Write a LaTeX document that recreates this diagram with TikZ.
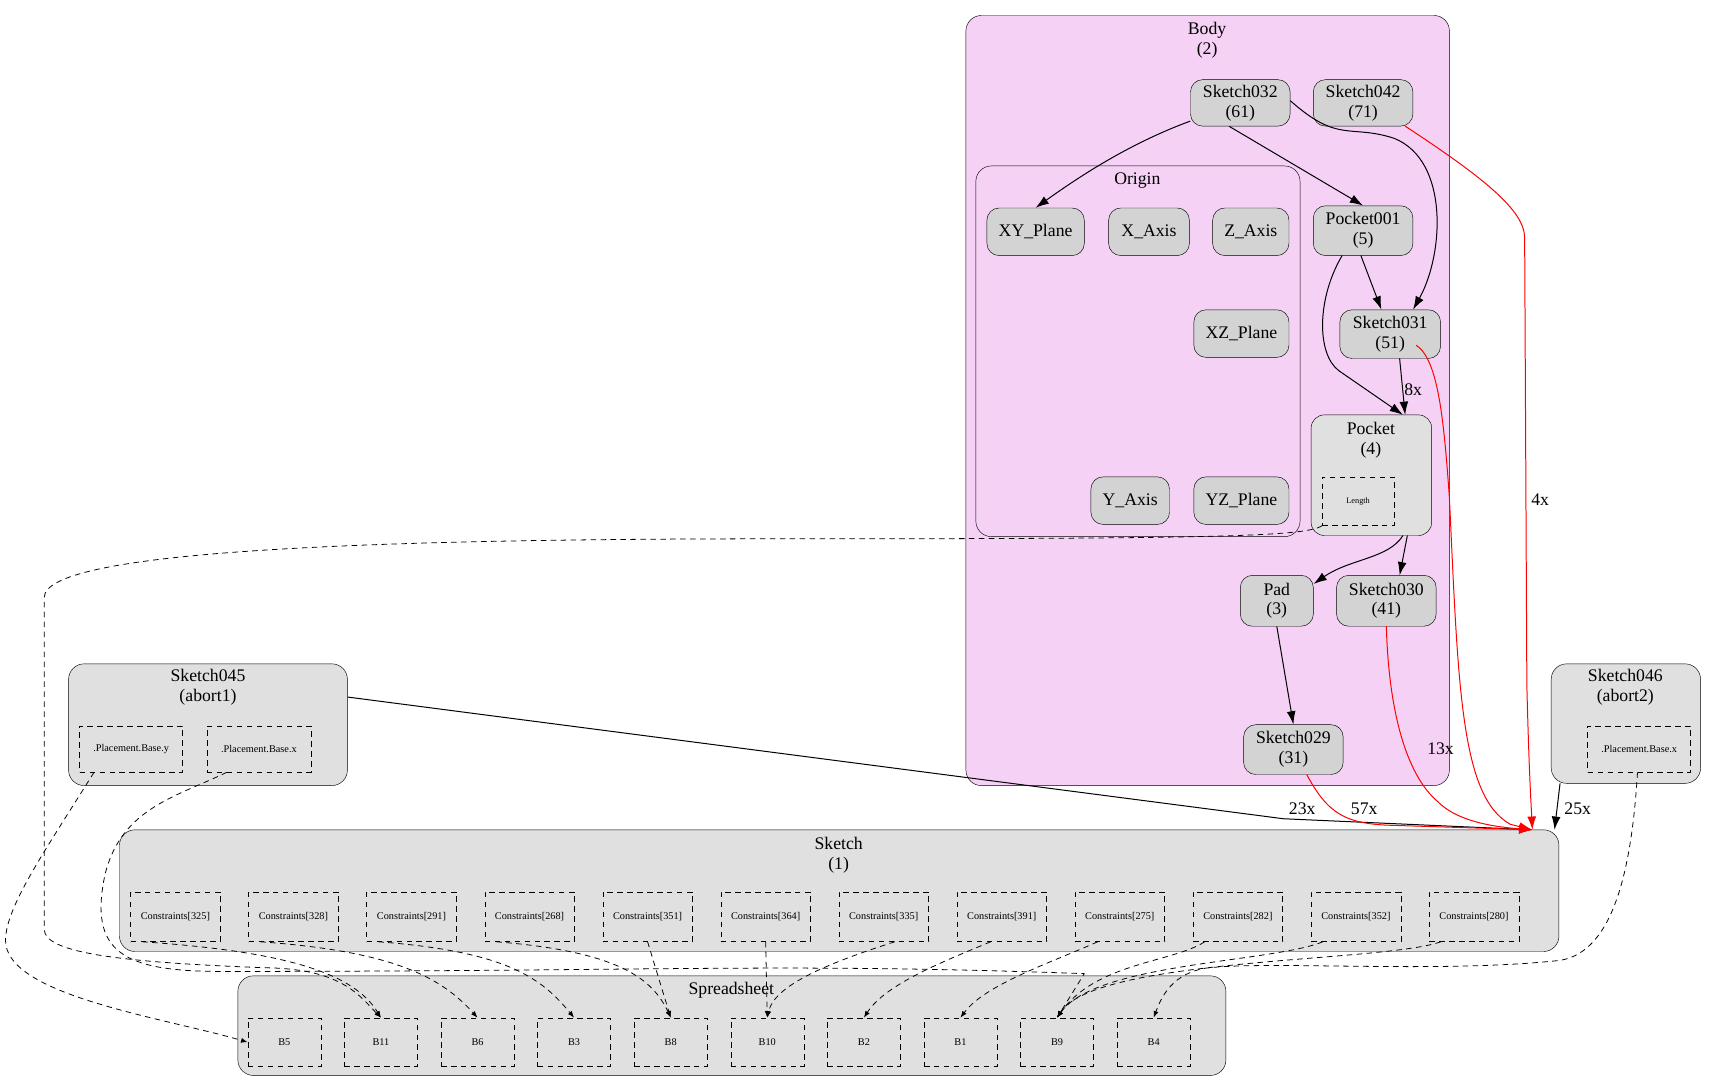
\documentclass[tikz,border=0pt]{standalone}
\usepackage{fontspec}
\setmainfont{Liberation Serif}
\usetikzlibrary{arrows.meta,calc}
\definecolor{nodeg}{RGB}{211,211,211}
\definecolor{clug}{RGB}{224,224,224}
\definecolor{bodyc}{RGB}{245,210,245}
\begin{document}
\begin{tikzpicture}[x=1pt,y=-1pt,
  nd/.style={draw,fill=nodeg,rounded corners=11pt,inner sep=0pt,align=center,font=\fontsize{16}{18}\selectfont},
  cl/.style={draw,fill=clug,rounded corners=14pt,inner sep=0pt},
  sub/.style={draw,dash pattern=on 5pt off 4pt,inner sep=0pt,font=\fontsize{9.3}{11}\selectfont},
  ttl/.style={align=center,font=\fontsize{16}{18}\selectfont,inner sep=0pt},
  lab/.style={font=\fontsize{16}{18}\selectfont,inner sep=1pt},
  e/.style={-{Latex[length=12pt,width=8pt]},line width=0.9pt},
  r/.style={e,red},
  d/.style={-{Latex[length=6pt,width=4.5pt]},dash pattern=on 5pt off 4pt,line width=0.7pt}]
\useasboundingbox (0,0) rectangle (1560,984);
\newcommand\bx[5]{\node[#1,minimum width={#4-#2},minimum height={#5-#3}] at ({(#2+#4)/2},{(#3+#5)/2})}
% Body cluster
\bx{draw,fill=bodyc,rounded corners=14pt,inner sep=0pt}{873}{14}{1310}{710} (body) {};
\node[ttl] (bodyt) at (1091,36) {Body\\(2)};
\bx{draw,rounded corners=14pt,inner sep=0pt}{882}{150}{1175}{485} (origin) {};
\node[ttl] (origint) at (1028,163) {Origin};
\bx{nd}{1076}{72}{1166}{114} (s032) {Sketch032\\(61)};
\bx{nd}{1187}{72}{1277}{114} (s042) {Sketch042\\(71)};
\bx{nd}{892}{188}{980}{231} (xy) {XY\_Plane};
\bx{nd}{1002}{188}{1075}{231} (xa) {X\_Axis};
\bx{nd}{1096}{188}{1165}{231} (za) {Z\_Axis};
\bx{nd}{1079}{280}{1165}{323} (xz) {XZ\_Plane};
\bx{nd}{986}{431}{1057}{474} (ya) {Y\_Axis};
\bx{nd}{1079}{431}{1165}{474} (yz) {YZ\_Plane};
\bx{nd}{1187}{186}{1277}{231} (p001) {Pocket001\\(5)};
\bx{nd}{1211}{280}{1302}{324} (s031) {Sketch031\\(51)};
\bx{cl,rounded corners=12pt}{1185}{375}{1294}{484} (pocket) {};
\node[ttl] (pockett) at (1239,398) {Pocket\\(4)};
\bx{sub}{1195}{431}{1260}{475} (len) {\fontsize{7.5}{8}\selectfont Length};
\bx{nd}{1121}{520}{1187}{566} (pad) {Pad\\(3)};
\bx{nd}{1208}{520}{1298}{566} (s030) {Sketch030\\(41)};
\bx{nd}{1124}{655}{1214}{700} (s029) {Sketch029\\(31)};
% Sketch045
\bx{cl}{62}{600}{314}{710} (s045) {};
\node[ttl] (s045t) at (188,621) {Sketch045\\(abort1)};
\bx{sub}{72}{656}{165}{698} (by45) {.Placement.Base.y};
\bx{sub}{187}{656}{281}{698} (bx45) {.Placement.Base.x};
% Sketch046
\bx{cl}{1402}{600}{1537}{708} (s046) {};
\node[ttl] (s046t) at (1469,621) {Sketch046\\(abort2)};
\bx{sub}{1435}{656}{1528}{698} (bx46) {.Placement.Base.x};
% Sketch
\bx{cl}{108}{750}{1409}{860} (sk) {};
\node[ttl] (skt) at (758,773) {Sketch\\(1)};
\foreach \n [count=\i from 0] in {325,328,291,268,351,364,335,391,275,282,352,280}{
  \pgfmathsetmacro\xa{118+106.7*\i}
  \bx{sub}{\xa}{806}{\xa+81}{851} (c\n) {Constraints[\n]};
}
% Spreadsheet
\bx{cl}{215}{882}{1108}{972} (ss) {};
\node[ttl] (sst) at (661,895) {Spreadsheet};
\foreach \n [count=\i from 0] in {B5,B11,B6,B3,B8,B10,B2,B1,B9,B4}{
  \pgfmathsetmacro\xa{224+87.3*\i}
  \bx{sub}{\xa}{920}{\xa+66}{964} (\n) {\n};
}
\coordinate (skin) at (1385,750);
% black edges
\draw[e] (s032.200) .. controls (1020,130) and (975,160) .. (xy.north);
\draw[e] ($(s032.south)+(-10,0)$) -- (p001.north);
\draw[e] ($(s032.east)+(0,-2)$) .. controls (1210,130) and (1220,112) .. (1260,125) .. controls (1310,145) and (1305,230) .. ($(s031.north east)+(-25,0)$);
\draw[e] (1230,231) -- ($(s031.north)+(-8,0)$);
\draw[e] (1213,231) .. controls (1190,270) and (1190,320) .. (1210,335) -- (1268,375);
\draw[e] (1265,324) -- (1270,375) node[lab,right,pos=0.55] (l8) {8x};
\draw[e] (1268,484) .. controls (1255,505) and (1220,505) .. ($(pad.north east)+(0,8)$);
\draw[e] (1272,484) -- (1265,520);
\draw[e] (pad.south) -- (s029.north);
\draw[e] ($(s045.east)+(0,-25)$) -- (1160,740) -- (skin);
\node[lab] (l23) at (1177,731) {23x};
\draw[e] (1410,708) -- (1405,750);
\node[lab] (l25) at (1426,731) {25x};
% red edges
\draw[r] (1270,114) .. controls (1340,160) and (1378,190) .. (1378,215) -- (1380,620) .. controls (1382,700) and (1384,730) .. (skin);
\node[lab] (l4) at (1392,452) {4x};
\draw[r] (1280,312) .. controls (1300,325) and (1305,380) .. (1310,450) .. controls (1318,620) and (1320,720) .. (1365,745) -- (skin);
\draw[r] (1253,566) .. controls (1255,640) and (1270,700) .. (1300,725) .. controls (1320,745) and (1360,748) .. (skin);
\node[lab] (l13) at (1302,677) {13x};
\draw[r] (1181,700) .. controls (1200,735) and (1215,745) .. (1260,746) -- (skin);
\node[lab] (l57) at (1233,731) {57x};
% dashed edges
\draw[d] (len.south west) .. controls (1180,485) and (1100,487) .. (700,487) .. controls (300,487) and (40,500) .. (40,540) -- (40,840) .. controls (40,860) and (100,870) .. (250,875) .. controls (310,878) and (325,900) .. (B11.north);
\draw[d] (85,698) .. controls (40,770) and (5,820) .. (5,850) .. controls (5,900) and (150,920) .. (B5.west);
\draw[d] (205,698) .. controls (160,720) and (110,730) .. (95,790) .. controls (80,860) and (110,878) .. (200,878) .. controls (600,878) and (700,870) .. (980,880) -- (B9.north);
\draw[d] (1480,698) .. controls (1475,780) and (1460,860) .. (1410,868) .. controls (1300,880) and (1150,868) .. (1090,875) .. controls (1060,880) and (1050,900) .. (B4.north);
\draw[d] ($(c325.south)+(-30,0)$) .. controls (260,860) and (320,880) .. (B11.north);
\draw[d] ($(c328.south)+(-30,0)$) .. controls (360,860) and (400,885) .. (B6.north);
\draw[d] ($(c291.south)+(-30,0)$) .. controls (460,860) and (490,885) .. (B3.north);
\draw[d] ($(c268.south)+(-30,0)$) .. controls (560,860) and (590,885) .. (B8.north);
\draw[d] (c351.south) -- (B8.north);
\draw[d] (c364.south) -- (B10.north);
\draw[d] ($(c335.south)+(10,0)$) .. controls (750,870) and (700,890) .. (B10.north);
\draw[d] ($(c391.south)+(-10,0)$) .. controls (850,870) and (800,890) .. (B2.north);
\draw[d] ($(c275.south)+(-20,0)$) .. controls (950,870) and (890,890) .. (B1.north);
\draw[d] ($(c282.south)+(-30,0)$) .. controls (1060,870) and (990,870) .. (B9.north);
\draw[d] ($(c352.south)+(-30,0)$) .. controls (1150,870) and (990,870) .. (B9.north);
\draw[d] ($(c280.south)+(-30,0)$) .. controls (1250,870) and (990,865) .. (B9.north);
\end{tikzpicture}
\end{document}
